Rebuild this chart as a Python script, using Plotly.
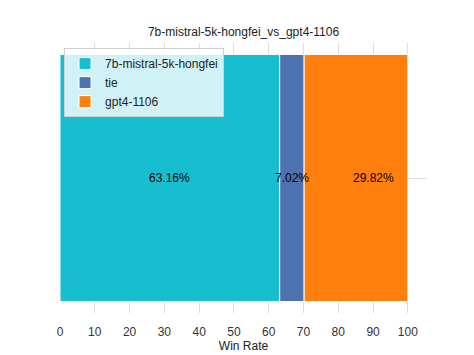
import plotly.graph_objects as go

title = "7b-mistral-5k-hongfei_vs_gpt4-1106"
series = ["7b-mistral-5k-hongfei", "tie", "gpt4-1106"]
values = [63.16, 7.02, 29.82]
colors = ["#17becf", "#4c72b0", "#ff7f0e"]
label_shift = [0, 0, 17]
x_ticks = [0, 10, 20, 30, 40, 50, 60, 70, 80, 90, 100]

fig = go.Figure()
left = 0.0
annotations = []
for name, v, c, sh in zip(series, values, colors, label_shift):
    fig.add_trace(go.Bar(
        y=[0], x=[v], base=[left], orientation="h", name=name,
        marker=dict(color=c, line=dict(color="white", width=1)),
        width=0.8,
    ))
    annotations.append(dict(x=left + v / 2, y=0, text=f"{v:.2f}%", showarrow=False,
                            xshift=sh, font=dict(size=12, color="black")))
    left += v

fig.update_layout(
    width=474, height=355,
    margin=dict(l=52, r=55, t=35, b=50, autoexpand=False),
    paper_bgcolor="white", plot_bgcolor="white",
    font=dict(family="Liberation Sans, Arial, sans-serif", size=12, color="#333333"),
    title=dict(text=title, x=(52 + 419) / 2 / 474, xanchor="center", y=1 - 24 / 355, yanchor="middle",
               font=dict(size=12, color="#222222")),
    barmode="overlay",
    showlegend=True,
    legend=dict(x=0.011, y=0.981, xanchor="left", yanchor="top",
                bgcolor="rgba(255,255,255,0.8)", bordercolor="#d0d0d0", borderwidth=1,
                font=dict(size=12, color="#222222"), traceorder="normal",
                itemwidth=30),
    annotations=annotations,
    xaxis=dict(range=[0, 105.5], tickvals=x_ticks, showgrid=True, gridcolor="#dddddd",
               gridwidth=1, zeroline=False, showline=False, automargin=False,
               ticks="outside", ticklen=8, tickcolor="rgba(0,0,0,0)",
               title=dict(text="Win Rate", standoff=2, font=dict(size=12, color="#222222")),
               tickfont=dict(size=12, color="#333333")),
    yaxis=dict(range=[-0.437, 0.437], tickvals=[0], showticklabels=False, showgrid=True,
               gridcolor="#dddddd", zeroline=False, showline=False, automargin=False),
)

fig.write_html("out.html")
